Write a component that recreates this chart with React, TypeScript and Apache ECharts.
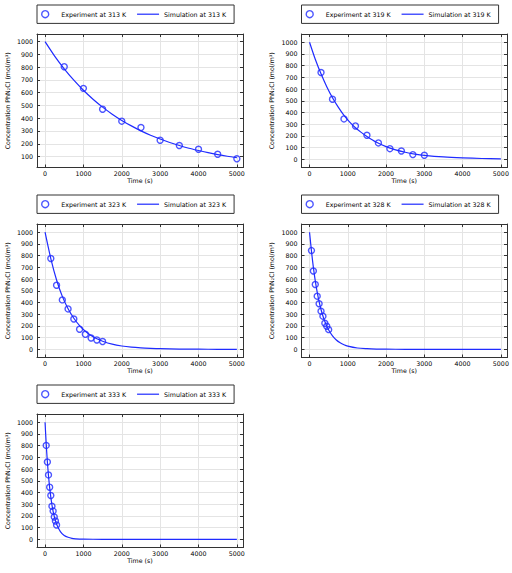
import React, { useEffect, useRef } from "react";
import * as echarts from "echarts";

// ---------- data ----------
const temperatures = ["313 K", "319 K", "323 K", "328 K", "333 K"];

const expTime313 = [500, 1000, 1500, 2000, 2500, 3000, 3500, 4000, 4500, 5000];
const expConc313 = [804, 634, 471, 377, 327, 228, 186, 157, 118, 82];
const simTime313 = [0, 250, 500, 750, 1000, 1250, 1500, 1750, 2000, 2250, 2500, 2750, 3000, 3250, 3500, 3750, 4000, 4250, 4500, 4750, 5000];
const simConc313 = [1000, 887, 787, 698, 619, 549, 487, 432, 383, 340, 301, 267, 237, 210, 186, 165, 147, 130, 115, 102, 91];

const expTime319 = [300, 600, 900, 1200, 1500, 1800, 2100, 2400, 2700, 3000];
const expConc319 = [741, 513, 345, 285, 205, 140, 91, 71, 40, 34];
const simTime319 = [0, 150, 300, 450, 600, 750, 900, 1050, 1200, 1350, 1500, 1750, 2000, 2250, 2500, 2750, 3000, 3500, 4000, 4500, 5000];
const simConc319 = [1000, 855, 730, 620, 525, 445, 375, 318, 270, 230, 195, 145, 108, 80, 60, 45, 34, 20, 12, 7, 4];

const expTime323 = [150, 300, 450, 600, 750, 900, 1050, 1200, 1350, 1500];
const expConc323 = [775, 547, 422, 345, 259, 171, 128, 97, 80, 66];
const simTime323 = [0, 150, 300, 450, 600, 750, 900, 1050, 1200, 1350, 1500, 1750, 2000, 2250, 2500, 2750, 3000, 3500, 4000, 4500, 5000];
const simConc323 = [1000, 775, 592, 452, 346, 265, 202, 154, 118, 90, 69, 44, 28, 18, 12, 8, 5, 2, 1, 0, 0];

const expTime328 = [50, 100, 150, 200, 250, 300, 350, 400, 450, 500];
const expConc328 = [843, 669, 554, 454, 389, 326, 283, 222, 197, 168];
const simTime328 = [0, 50, 100, 150, 200, 250, 300, 350, 400, 450, 500, 600, 700, 800, 900, 1000, 1250, 1500, 1750, 2000, 2500, 3000, 4000, 5000];
const simConc328 = [1000, 840, 700, 585, 488, 407, 340, 284, 237, 198, 165, 115, 80, 56, 39, 27, 11, 5, 2, 1, 0, 0, 0, 0];

const expTime333 = [30, 60, 90, 120, 150, 180, 210, 240, 270, 300];
const expConc333 = [802, 660, 550, 445, 374, 283, 241, 190, 156, 122];
const simTime333 = [0, 30, 60, 90, 120, 150, 180, 210, 240, 270, 300, 400, 500, 600, 700, 800, 900, 1000, 1500, 2000, 3000, 4000, 5000];
const simConc333 = [1000, 815, 664, 541, 441, 360, 293, 239, 195, 159, 130, 66, 33, 17, 8, 4, 2, 1, 0, 0, 0, 0, 0];

const xRange = [-210, 5160];
const yRanges = [
  [14, 1060],
  [-70, 1070],
  [-70, 1070],
  [-70, 1070],
  [-70, 1070],
];

const panels = [
  { t: expTime313, c: expConc313, st: simTime313, sc: simConc313 },
  { t: expTime319, c: expConc319, st: simTime319, sc: simConc319 },
  { t: expTime323, c: expConc323, st: simTime323, sc: simConc323 },
  { t: expTime328, c: expConc328, st: simTime328, sc: simConc328 },
  { t: expTime333, c: expConc333, st: simTime333, sc: simConc333 },
];

// ---------- style ----------
const FONT = "DejaVu Sans";
const FS = 6.3;
const BLUE = "#1f2bff";
const FRAME = "#333333";
const GRIDC = "#e4e4e4";

const colLeft = [37, 301.5];
const colWidth = [206, 205.5];
const rowTop = [34, 224, 414];
const plotH = 133.5;

function buildOption() {
  const grid: any[] = [];
  const xAxis: any[] = [];
  const yAxis: any[] = [];
  const series: any[] = [];
  const legend: any[] = [];
  const n = panels.length;

  panels.forEach((p, i) => {
    const col = i % 2;
    const row = Math.floor(i / 2);
    const left = colLeft[col];
    const top = rowTop[row];
    grid.push({
      left,
      top,
      width: colWidth[col],
      height: plotH,
      outerBoundsMode: "none",
      containLabel: false,
    });

    const tickStyle = { show: true, inside: true, length: 3, lineStyle: { color: FRAME, width: 1 } };
    const lineStyle = { show: true, onZero: false, lineStyle: { color: FRAME, width: 1 } };

    xAxis[i] = {
      type: "value",
      gridIndex: i,
      min: xRange[0],
      max: xRange[1],
      minInterval: 1000,
      maxInterval: 1000,
      name: "Time (s)",
      nameLocation: "middle",
      nameGap: 10,
      nameTextStyle: { fontFamily: FONT, fontSize: FS, color: "#000" },
      axisLine: lineStyle,
      axisTick: tickStyle,
      axisLabel: {
        fontFamily: FONT,
        fontSize: FS,
        color: "#000",
        margin: 3,
        formatter: (v: number) => (Math.abs(v % 1000) < 1e-6 ? String(Math.round(v)) : ""),
      },
      splitLine: { show: true, lineStyle: { color: GRIDC, width: 1 } },
    };
    xAxis[n + i] = {
      type: "value",
      gridIndex: i,
      position: "top",
      min: xRange[0],
      max: xRange[1],
      minInterval: 1000,
      maxInterval: 1000,
      axisLine: lineStyle,
      axisTick: tickStyle,
      axisLabel: { show: false },
      splitLine: { show: false },
    };
    yAxis[i] = {
      type: "value",
      gridIndex: i,
      min: yRanges[i][0],
      max: yRanges[i][1],
      minInterval: 100,
      maxInterval: 100,
      name: "Concentration PhN\u2082Cl (mol/m\u00b3)",
      nameLocation: "middle",
      nameGap: 27,
      nameRotate: 90,
      nameTextStyle: { fontFamily: FONT, fontSize: FS, color: "#000" },
      axisLine: lineStyle,
      axisTick: tickStyle,
      axisLabel: {
        fontFamily: FONT,
        fontSize: FS,
        color: "#000",
        margin: 4,
        formatter: (v: number) => (Math.abs(v % 100) < 1e-6 ? String(Math.round(v)) : ""),
      },
      splitLine: { show: true, lineStyle: { color: GRIDC, width: 1 } },
    };
    yAxis[n + i] = {
      type: "value",
      gridIndex: i,
      position: "right",
      min: yRanges[i][0],
      max: yRanges[i][1],
      minInterval: 100,
      maxInterval: 100,
      axisLine: lineStyle,
      axisTick: tickStyle,
      axisLabel: { show: false },
      splitLine: { show: false },
    };

    const expName = `Experiment at ${temperatures[i]}`;
    const simName = `Simulation at ${temperatures[i]}`;

    series.push({
      name: expName,
      type: "scatter",
      xAxisIndex: i,
      yAxisIndex: i,
      symbol: "circle",
      symbolSize: 6,
      itemStyle: { color: "rgba(0,0,0,0)", borderColor: BLUE, borderWidth: 1.4 },
      data: p.t.map((t, k) => [t, p.c[k]]),
      z: 3,
    });
    series.push({
      name: simName,
      type: "line",
      xAxisIndex: i,
      yAxisIndex: i,
      smooth: 0.3,
      showSymbol: false,
      symbol: "none",
      lineStyle: { color: BLUE, width: 1.2, join: "round" },
      itemStyle: { color: BLUE },
      data: p.st.map((t, k) => [t, p.sc[k]]),
      z: 2,
    });

    legend.push({
      left,
      top: top - 29,
      orient: "horizontal",
      padding: [5, 8, 5, 4],
      itemGap: 11,
      itemWidth: 22,
      itemHeight: 7,
      borderColor: FRAME,
      borderWidth: 1,
      borderRadius: 0,
      backgroundColor: "#fff",
      selectedMode: false,
      textStyle: { fontFamily: FONT, fontSize: FS, color: "#000" },
      data: [
        {
          name: expName,
          icon: "circle",
          itemStyle: { color: "rgba(0,0,0,0)", borderColor: BLUE, borderWidth: 1.4 },
          textStyle: { color: "#000" },
        },
        {
          name: simName,
          icon: "path://M0,0h22v1.2h-22z",
          itemStyle: { color: BLUE, borderWidth: 0 },
          textStyle: { color: "#000" },
        },
      ],
    });
  });

  return {
    animation: false,
    backgroundColor: "#ffffff",
    textStyle: { fontFamily: FONT },
    grid,
    xAxis,
    yAxis,
    legend,
    series,
  };
}

export default function App() {
  const ref = useRef<HTMLDivElement>(null);
  useEffect(() => {
    document.body.style.margin = "0";
    if (!ref.current) return;
    const chart = echarts.init(ref.current, undefined, { renderer: "svg" });
    chart.setOption(buildOption() as any);
    return () => {
      chart.dispose();
    };
  }, []);
  return (
    <div
      ref={ref}
      style={{ position: "absolute", left: 0, top: 0, width: 512, height: 573, background: "#fff" }}
    />
  );
}
